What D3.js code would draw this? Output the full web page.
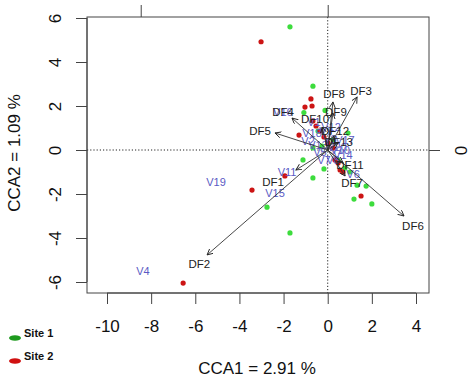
<!DOCTYPE html>
<html>
<head>
<meta charset="utf-8">
<script src="https://cdn.jsdelivr.net/npm/d3@7"></script>
<style>
  body { margin: 0; background: #fff; }
  svg { display: block; font-family: "Liberation Sans", Arial, sans-serif; }
</style>
</head>
<body>
<div id="container"></div>
<script>
// site scores (CCA1, CCA2)
const site1 = [
    [-1.71, 5.6], [-0.67, 2.9], [-1.08, 1.7], [-0.12, 1.8], [0.92, 0.77],
    [-0.67, 0.09], [-1.12, -0.45], [-0.17, -0.86], [-0.67, -1.27], [-2.75, -2.6],
    [-1.71, -3.77], [1.33, -1.6], [1.74, -1.64], [1.19, -2.23], [2.0, -2.45],
    [1.01, -1.0], [-0.44, 0.86], [0.24, 0.45], [0.47, -0.45], [0.78, -0.82], [-0.26, 0.18]
];
const site2 = [
    [-3.02, 4.92], [-0.76, 2.32], [-1.03, 1.95], [-0.71, 2.0], [-0.67, 1.32],
    [-1.3, 0.68], [-1.94, -1.18], [-3.43, -1.82], [-6.55, -6.05], [0.69, -1.0],
    [1.51, -2.09], [-0.53, 1.09], [-0.35, 0.86], [-0.17, 0.59], [0.01, 0.32],
    [0.24, 0.09], [0.47, -0.59], [0.56, -0.91], [0.33, -0.45]
];

// biplot arrows (arrow scale) : name, tip x, tip y, label x, label y
const arrows = [
    ["DF1", -0.17, -0.107, -0.292, -0.171],
    ["DF2", -0.645, -0.561, -0.687, -0.61],
    ["DF3", 0.157, 0.283, 0.178, 0.316],
    ["DF4", -0.191, 0.171, -0.239, 0.203],
    ["DF5", -0.282, 0.091, -0.362, 0.102],
    ["DF6", 0.408, -0.353, 0.456, -0.406],
    ["DF7", 0.093, -0.139, 0.13, -0.176],
    ["DF8", 0.028, 0.257, 0.034, 0.3],
    ["DF9", 0.028, 0.198, 0.044, 0.203],
    ["DF10", -0.03, 0.123, -0.068, 0.166],
    ["DF11", 0.082, -0.07, 0.119, -0.08],
    ["DF12", 0.034, 0.075, 0.039, 0.102],
    ["DF13", 0.055, 0.037, 0.06, 0.043]
];

// variable scores (CCA1, CCA2)
const variables = [
    ["V1", -0.62, 1.27], ["V2", -0.89, 0.41], ["V3", 0.1, 0.5], ["V4", -8.37, -5.5],
    ["V5", -0.35, -0.09], ["V6", 1.15, -1.09], ["V7", -0.17, -0.45], ["V8", 0.24, -0.45],
    ["V9", -0.08, 0.86], ["V10", 0.56, 0.0], ["V11", -1.84, -1.0], ["V12", 0.15, 1.05],
    ["V13", -0.44, 0.23], ["V14", 0.69, -0.23], ["V15", -2.39, -1.95], ["V16", -2.03, 1.73],
    ["V17", 0.78, 0.45], ["V18", -0.71, 0.77], ["V19", -5.06, -1.45], ["V20", 0.42, 0.14]
];

const xTicks = [-10, -8, -6, -4, -2, 0, 2, 4];
const yTicks = [-6, -4, -2, 0, 2, 4, 6];
const topTicks = [-1, 0];
const rightTicks = [0];
const legendItems = [["Site 1", "#1e9a1e"], ["Site 2", "#d01010"]];

const width = 474, height = 382;
const box = {left: 87, right: 429, top: 17, bottom: 293};

const x = d3.scaleLinear().domain([-10, 4]).range([107, 416]);
const y = d3.scaleLinear().domain([-6, 6]).range([282, 18]);
// arrow scale: same origin, 1 unit = 187 px
const xa = d3.scaleLinear().domain([0, 1]).range([x(0), x(0) + 187]);
const ya = d3.scaleLinear().domain([0, 1]).range([y(0), y(0) - 187]);

const minus = d => d < 0 ? "-" + Math.abs(d) : d;

const svg = d3.create("svg")
    .attr("width", width)
    .attr("height", height);

svg.append("defs").append("marker")
    .attr("id", "head")
    .attr("markerUnits", "userSpaceOnUse")
    .attr("markerWidth", 8)
    .attr("markerHeight", 8)
    .attr("refX", 6)
    .attr("refY", 3)
    .attr("orient", "auto")
    .append("path")
    .attr("d", "M0,0 L6,3 L0,6")
    .attr("fill", "none")
    .attr("stroke", "#222")
    .attr("stroke-width", 0.9);

// dotted origin lines
svg.append("line")
    .attr("x1", box.left).attr("x2", box.right)
    .attr("y1", y(0)).attr("y2", y(0))
    .attr("stroke", "#222").attr("stroke-dasharray", "1.2,2");
svg.append("line")
    .attr("x1", x(0)).attr("x2", x(0))
    .attr("y1", box.top).attr("y2", box.bottom)
    .attr("stroke", "#222").attr("stroke-dasharray", "1.2,2");

// sites
svg.selectAll("circle.s1")
    .data(site1)
    .enter().append("circle")
    .attr("class", "s1")
    .attr("cx", d => x(d[0]))
    .attr("cy", d => y(d[1]))
    .attr("r", 2.6)
    .attr("fill", "#3ddc3d");

svg.selectAll("circle.s2")
    .data(site2)
    .enter().append("circle")
    .attr("class", "s2")
    .attr("cx", d => x(d[0]))
    .attr("cy", d => y(d[1]))
    .attr("r", 2.6)
    .attr("fill", "#cc1414");

// variable labels
svg.selectAll("text.var")
    .data(variables)
    .enter().append("text")
    .attr("class", "var")
    .attr("x", d => x(d[1]))
    .attr("y", d => y(d[2]))
    .attr("text-anchor", "middle")
    .attr("dominant-baseline", "central")
    .attr("font-size", "11px")
    .attr("fill", "#5a5ac4")
    .text(d => d[0]);

// arrows
svg.selectAll("line.arrow")
    .data(arrows)
    .enter().append("line")
    .attr("class", "arrow")
    .attr("x1", xa(0)).attr("y1", ya(0))
    .attr("x2", d => xa(d[1]))
    .attr("y2", d => ya(d[2]))
    .attr("stroke", "#333")
    .attr("stroke-width", 0.9)
    .attr("marker-end", "url(#head)");

svg.selectAll("text.df")
    .data(arrows)
    .enter().append("text")
    .attr("class", "df")
    .attr("x", d => xa(d[3]))
    .attr("y", d => ya(d[4]))
    .attr("text-anchor", "middle")
    .attr("dominant-baseline", "central")
    .attr("font-size", "11.5px")
    .attr("fill", "#222")
    .text(d => d[0]);

// frame
svg.append("rect")
    .attr("x", box.left).attr("y", box.top)
    .attr("width", box.right - box.left)
    .attr("height", box.bottom - box.top)
    .attr("fill", "none")
    .attr("stroke", "#444")
    .attr("stroke-width", 1);

// bottom axis
const bottomAxis = d3.axisBottom(x).tickValues(xTicks).tickSize(11).tickPadding(16).tickFormat(minus);
const gb = svg.append("g").attr("transform", `translate(0,${box.bottom})`).call(bottomAxis);
gb.select(".domain").attr("d", `M${x(-10)},0H${x(4)}`).attr("stroke", "#444");
gb.selectAll(".tick line").attr("stroke", "#444");
gb.selectAll("text").attr("font-size", "17px").attr("fill", "#111")
    .attr("font-family", "Liberation Sans, Arial, sans-serif");

// left axis
const leftAxis = d3.axisLeft(y).tickValues(yTicks).tickSize(11).tickFormat(minus);
const gl = svg.append("g").attr("transform", `translate(${box.left},0)`).call(leftAxis);
gl.select(".domain").attr("d", `M0,${y(-6)}V${y(6)}`).attr("stroke", "#444");
gl.selectAll(".tick line").attr("stroke", "#444");
gl.selectAll("text")
    .attr("font-size", "17px").attr("fill", "#111")
    .attr("font-family", "Liberation Sans, Arial, sans-serif")
    .attr("x", null).attr("dy", null)
    .attr("text-anchor", "middle")
    .attr("dominant-baseline", "central")
    .attr("transform", "translate(-32,0) rotate(-90)");

// top axis (arrow scale)
const topAxis = d3.axisTop(xa).tickValues(topTicks).tickSize(12).tickFormat("");
const gt = svg.append("g").attr("transform", `translate(0,${box.top})`).call(topAxis);
gt.select(".domain").remove();
gt.selectAll(".tick line").attr("stroke", "#444");

// right axis (arrow scale)
const rightAxis = d3.axisRight(ya).tickValues(rightTicks).tickSize(11).tickFormat(d3.format("d"));
const gr = svg.append("g").attr("transform", `translate(${box.right},0)`).call(rightAxis);
gr.select(".domain").remove();
gr.selectAll(".tick line").attr("stroke", "#444");
gr.selectAll("text")
    .attr("font-size", "17px").attr("fill", "#111")
    .attr("font-family", "Liberation Sans, Arial, sans-serif")
    .attr("x", null).attr("dy", null)
    .attr("text-anchor", "middle")
    .attr("dominant-baseline", "central")
    .attr("transform", "translate(32,0) rotate(-90)");

// axis titles
svg.append("text")
    .attr("x", 257).attr("y", 368)
    .attr("text-anchor", "middle")
    .attr("dominant-baseline", "central")
    .attr("font-size", "17px")
    .attr("fill", "#111")
    .text("CCA1 = 2.91 %");

svg.append("text")
    .attr("transform", "translate(14,153) rotate(-90)")
    .attr("text-anchor", "middle")
    .attr("dominant-baseline", "central")
    .attr("font-size", "17px")
    .attr("fill", "#111")
    .text("CCA2 = 1.09 %");

// legend
const legend = svg.append("g").attr("transform", "translate(15,338)");
legend.selectAll("ellipse")
    .data(legendItems)
    .enter().append("ellipse")
    .attr("cx", 0)
    .attr("cy", (_, i) => i * 23)
    .attr("rx", 6).attr("ry", 2.8)
    .attr("fill", d => d[1]);
legend.selectAll("text")
    .data(legendItems)
    .enter().append("text")
    .attr("x", 9)
    .attr("y", (_, i) => i * 23 - 5)
    .attr("dominant-baseline", "central")
    .attr("font-size", "11px")
    .attr("font-weight", "bold")
    .attr("fill", "#111")
    .text(d => d[0]);

d3.select("#container").append(() => svg.node());
</script>
</body>
</html>
